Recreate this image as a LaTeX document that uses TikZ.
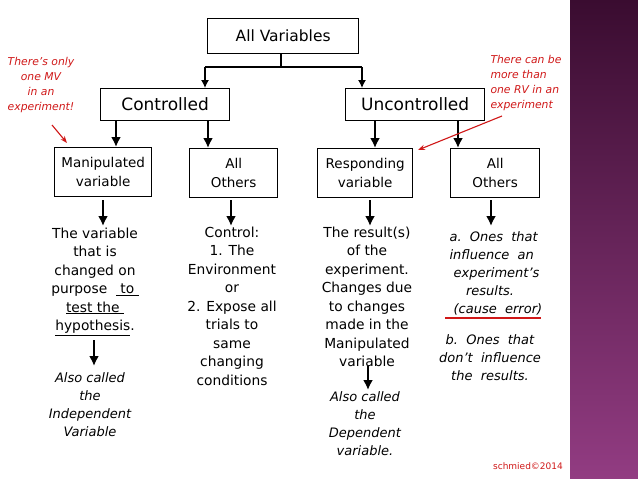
\documentclass[tikz,border=0pt]{standalone}
\usepackage{fontspec}
\setmainfont{DejaVu Sans}
\usetikzlibrary{arrows.meta}
\definecolor{pTop}{HTML}{3A0C30}
\definecolor{pBot}{HTML}{923C82}
\definecolor{rd}{HTML}{D01818}
\begin{document}
\begin{tikzpicture}[x=1pt,y=-1pt,
 box/.style={draw,line width=1.3pt,minimum height=0pt,inner sep=0pt,anchor=north west},
 ar/.style={line width=2pt,-{Latex[length=10pt,width=10pt]}},
 ln/.style={line width=1.3pt},
 txt/.style={font=\fontsize{13.8}{18.5}\selectfont,align=center,anchor=north},
 itx/.style={font=\fontsize{13}{18}\selectfont\itshape,align=center,anchor=north},
 red/.style={text=rd,font=\fontsize{10.8}{15}\selectfont\itshape,align=center},
 rar/.style={draw=rd,line width=1.1pt,-{Stealth[length=7pt]}}]
\useasboundingbox (0,0) rectangle (638,479);
\fill[white] (0,0) rectangle (638,479);
\shade[top color=pTop, bottom color=pBot] (570,0) rectangle (638,479);
% boxes
\node[box,minimum width=151pt,minimum height=35pt] (av) at (207,18) {};
\node[font=\fontsize{15.5}{17}\selectfont] at (av.center) {All Variables};
\node[box,minimum width=129pt,minimum height=32pt] (co) at (100,88) {};
\node[font=\fontsize{17}{19}\selectfont] at (co.center) {Controlled};
\node[box,minimum width=139pt,minimum height=32pt] (un) at (345,88) {};
\node[font=\fontsize{17}{19}\selectfont] at (un.center) {Uncontrolled};
\node[box,minimum width=97pt,minimum height=49pt] (mv) at (54,147) {};
\node[txt,font=\fontsize{13.5}{18.5}\selectfont,anchor=center] at (mv.center) {Manipulated\\variable};
\node[box,minimum width=88pt,minimum height=49pt] (ol) at (189,148) {};
\node[txt,font=\fontsize{13.5}{18.5}\selectfont,anchor=center] at (ol.center) {All\\Others};
\node[box,minimum width=95pt,minimum height=49pt] (rv) at (317,148) {};
\node[txt,font=\fontsize{13.5}{18.5}\selectfont,anchor=center] at (rv.center) {Responding\\variable};
\node[box,minimum width=89pt,minimum height=49pt] (or) at (450,148) {};
\node[txt,font=\fontsize{13.5}{18.5}\selectfont,anchor=center] at (or.center) {All\\Others};
% connectors
\coordinate (j) at (281,67);
\draw[ln] (av.south -| j) -- (j);
\draw[ln] (205,67) -- (362,67);
\draw[ln,-{Latex[length=8pt,width=8pt]}] (205,67) -- (205,88);
\draw[ln,-{Latex[length=8pt,width=8pt]}] (362,67) -- (362,88);
\draw[ar] (116,120) -- (116,147);
\draw[ar] (208,120) -- (208,148);
\draw[ar] (375,120) -- (375,148);
\draw[ar] (458,120) -- (458,148);
\draw[ar] (103,200) -- (103,226);
\draw[ar] (231,200) -- (231,226);
\draw[ar] (370,200) -- (370,226);
\draw[ar] (491,200) -- (491,226);
% texts
\node[txt] (t1) at (95,224) {The variable\\that is\\changed on\\purpose\ \ \underline{\ to\ }\\\underline{test the\ }\\\underline{hypothesis}.};
\draw[ar] (94,340) -- (94,366);
\node[itx] (t2) at (90,369) {Also called\\the\\Independent\\Variable};
\node[txt] (t3) at (232,223) {Control:\\1. The\\Environment\\or\\2. Expose all\\trials to\\same\\changing\\conditions};
\node[txt] (t4) at (367,223) {The result(s)\\of the\\experiment.\\Changes due\\to changes\\made in the\\Manipulated\\variable};
\draw[ar] (368,366) -- (368,390);
\node[itx] (t5) at (365,388) {Also called\\the\\Dependent\\variable.};
\node[itx,align=left,anchor=north west] (t6) at (446,228) {a.\ \ Ones\ \ that\\influence\ \ an\\\ experiment's\\\ \ \ \ results.\\\ (cause\ \ error)};
\draw[rd,line width=1.5pt] (445,318) -- (541,318);
\node[itx] (t7) at (490,331) {b.\ \ Ones\ \ that\\don't\ \ influence\\the\ \ results.};
% red notes
\node[red,anchor=north] (n1) at (41,54) {There's only\\one MV\\in an\\experiment!};
\node[red,align=left,anchor=north west] (n2) at (487,52) {There can be\\more than\\one RV in an\\experiment};
\coordinate (a1) at (52,125); \coordinate (a2) at (67,143);
\draw[rar] (a1) -- (a2);
\coordinate (b1) at (502,116); \coordinate (b2) at (418,150);
\draw[rar] (b1) -- (b2);
\node[text=rd,font=\fontsize{9}{10}\selectfont] (s) at (528,466) {schmied©2014};
\end{tikzpicture}
\end{document}
